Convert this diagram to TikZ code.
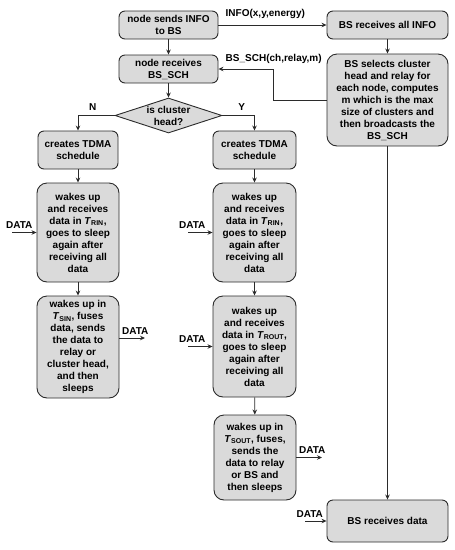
\documentclass[tikz,border=0pt]{standalone}
\usepackage{fontspec}
\setmainfont{Liberation Sans}
\usetikzlibrary{shapes.geometric,arrows.meta}
\definecolor{boxfill}{HTML}{DADADA}
\definecolor{edge}{HTML}{2B2B2B}
\begin{document}
\begin{tikzpicture}[x=1pt,y=-1pt,
  every node/.style={font=\fontsize{10}{12}\selectfont\bfseries, text=black},
  box/.style={draw=edge, fill=boxfill, line width=0.9pt, rounded corners=6pt, align=center, inner sep=0pt},
  tallbox/.style={box, rounded corners=10pt},
  decision/.style={draw=edge, fill=boxfill, line width=0.9pt, shape=diamond, inner sep=0pt},
  arr/.style={draw=edge, line width=0.9pt, -{Stealth[length=5pt,width=4.5pt]}},
  lab/.style={inner sep=3.3pt}
]
\useasboundingbox (0,0) rectangle (455,550);

% boxes
\node[box, minimum width=99, minimum height=28] (a1) at (168.5,25) {node sends INFO\\to BS};
\node[box, minimum width=121, minimum height=28] (b1) at (387.5,25) {BS receives all INFO};
\node[box, minimum width=99, minimum height=28] (a2) at (168.5,69) {node receives\\BS\_SCH};
\node[tallbox, minimum width=121, minimum height=92] (b2) at (387.5,100) {BS selects cluster\\head and relay for\\each node, computes\\m which is the max\\size of clusters and\\then broadcasts the\\BS\_SCH};
\node[decision, minimum width=107, minimum height=35, label={[align=center, inner sep=0pt]center:is cluster\\head?}] (d) at (168.5,115.5) {};
\node[box, minimum width=80, minimum height=38] (c1) at (78,150) {creates TDMA\\schedule};
\node[box, minimum width=83, minimum height=38] (c2) at (254.5,150) {creates TDMA\\schedule};
\node[tallbox, minimum width=82, minimum height=99] (w1) at (78,232.5) {wakes up\\and receives\\data in \textit{T}\textsubscript{RIN},\\goes to sleep\\again after\\receiving all\\data};
\node[tallbox, minimum width=82, minimum height=102] (s1) at (78,347) {wakes up in\\\textit{T}\textsubscript{SIN}, fuses\\data, sends\\the data to\\relay or\\cluster head,\\and then\\sleeps};
\node[tallbox, minimum width=83, minimum height=99] (w2) at (254.5,232.5) {wakes up\\and receives\\data in \textit{T}\textsubscript{RIN},\\goes to sleep\\again after\\receiving all\\data};
\node[tallbox, minimum width=83, minimum height=101] (r2) at (254.5,346.5) {wakes up\\and receives\\data in \textit{T}\textsubscript{ROUT},\\goes to sleep\\again after\\receiving all\\data};
\node[tallbox, minimum width=82, minimum height=85] (s2) at (255,457.5) {wakes up in\\\textit{T}\textsubscript{SOUT}, fuses,\\sends the\\data to relay\\or BS and\\then sleeps};
\node[box, minimum width=121, minimum height=42] (e) at (387.5,521) {BS receives data};

% free ends
\coordinate (in1) at (12,232.5);
\coordinate (in2) at (188,232.5);
\coordinate (in3) at (188,346.5);
\coordinate (out1) at (145,338);
\coordinate (out2) at (322,457.5);
\coordinate (in4) at (305,521);
\coordinate (bend) at (273,100);

% connectors
\draw[arr] (a1) -- node[lab, pos=0, anchor=south west, xshift=3.5, yshift=3]{INFO(x,y,energy)} (b1);
\draw[arr] (b1) -- (b2);
\draw[arr] (b2.west) -- (bend) |- node[lab, pos=1, anchor=south west, xshift=3.5, yshift=2]{BS\_SCH(ch,relay,m)} (a2.east);
\draw[arr] (a1) -- (a2);
\draw[arr] (a2) -- (d);
\draw[arr] (d.west) -| node[lab, pos=0.3, above, yshift=1]{N} (c1.north);
\draw[arr] (d.east) -| node[lab, pos=0.3, above, yshift=1]{Y} (c2.north);
\draw[arr] (c1) -- (w1);
\draw[arr] (w1) -- (s1);
\draw[arr] (c2) -- (w2);
\draw[arr] (w2) -- (r2);
\draw[arr] (r2) -- (s2);
\draw[arr] (b2) -- (e);

\draw[arr] (in1) -- node[lab, above, xshift=-5]{DATA} (w1.west);
\draw[arr] (in2) -- node[lab, above, xshift=-8]{DATA} (w2.west);
\draw[arr] (in3) -- node[lab, above, xshift=-8]{DATA} (r2.west);
\draw[arr] (s1.east |- out1) -- node[lab, above, xshift=3]{DATA} (out1);
\draw[arr] (s2.east |- out2) -- node[lab, above, xshift=3]{DATA} (out2);
\draw[arr] (in4) -- node[lab, above, xshift=-6]{DATA} (e.west);
\end{tikzpicture}
\end{document}
